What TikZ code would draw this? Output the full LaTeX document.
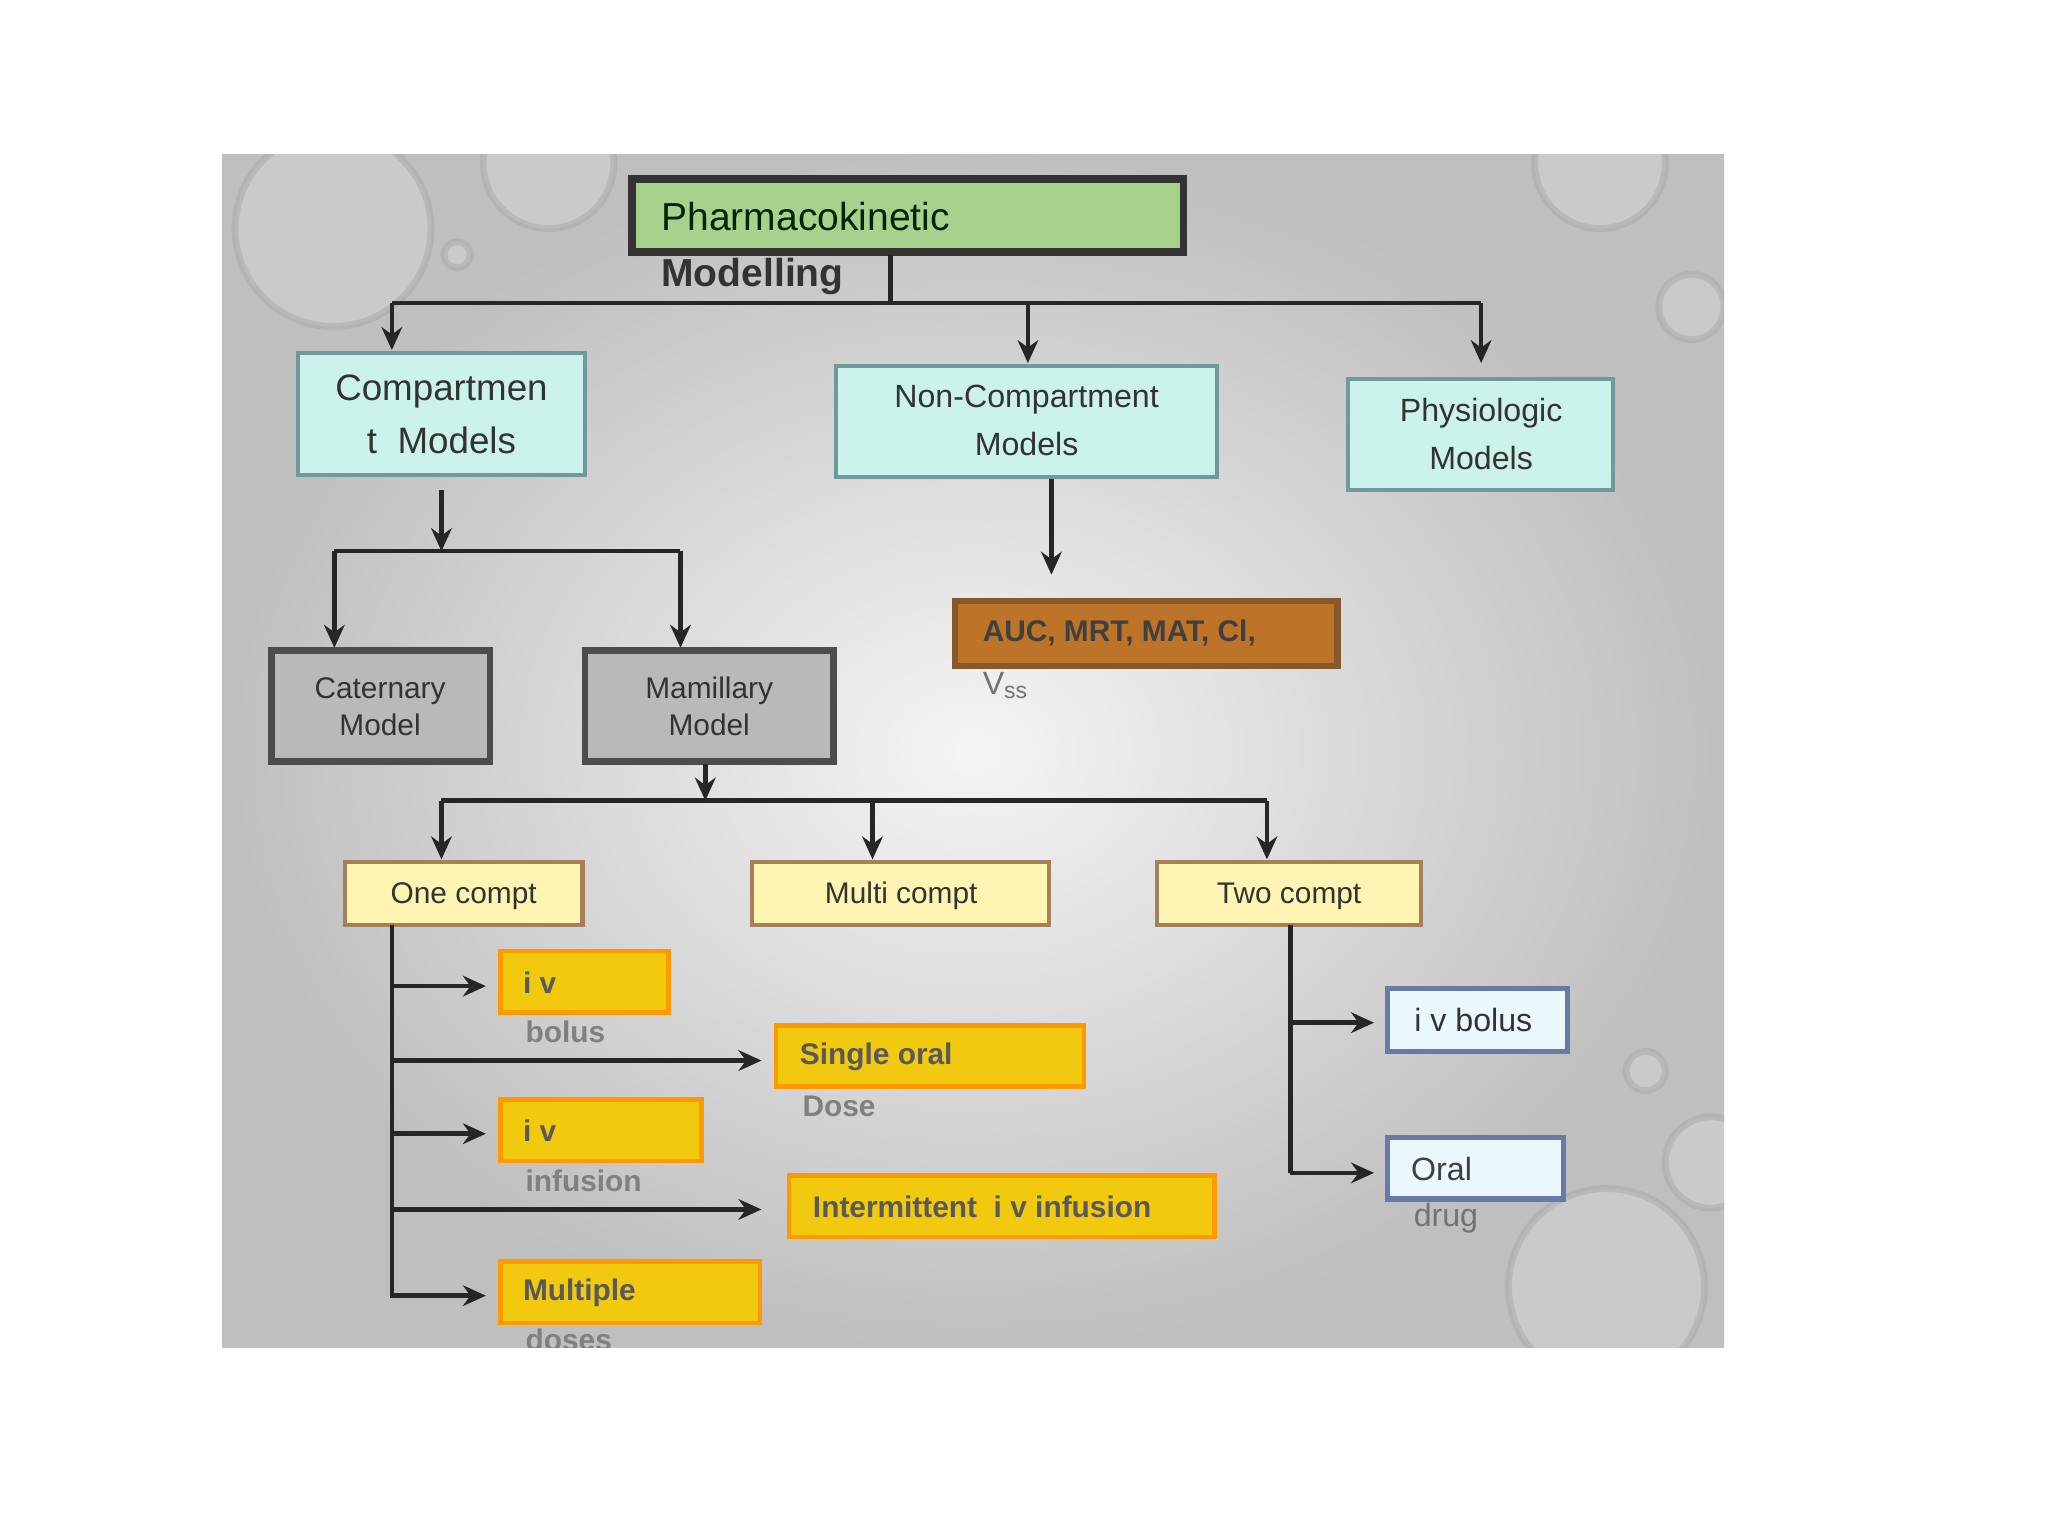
\documentclass[tikz,border=0pt]{standalone}
\usepackage{fontspec}
\setmainfont{Liberation Sans}
\usetikzlibrary{arrows.meta}
\definecolor{titlegreen}{HTML}{A9D18E}
\definecolor{lightcyan}{HTML}{CCF2EC}
\begin{document}
\begin{tikzpicture}[x=0.01cm,y=-0.01cm,
  bx/.style={draw=#1,line width=0.9pt,inner sep=0pt},
  lbl/.style={font=\fontsize{6.5}{8}\selectfont,text=black!80,align=center},
  con/.style={line width=1pt,draw=black!85},
  arr/.style={con,-{Stealth[length=5pt,width=4.5pt]}}]
\useasboundingbox (0,0) rectangle (1568,1176);
\fill[white] (0,0) rectangle (1568,1176);
\shade[inner color=gray!8,outer color=gray!50] (170,118) rectangle (1320,1032);
\begin{scope}
\clip (170,118) rectangle (1320,1032);
\foreach \x/\y/\r in {255/175/75,420/125/50,1225/125/50,1295/235/25,1230/985/75,1310/890/35,1260/820/15,350/195/10}
  \draw[gray!70,line width=1.5pt,fill=gray!30,opacity=.45] (\x,\y) circle (\r);
\end{scope}
% title
\draw[draw=black!80,fill=titlegreen,line width=1.6pt] (484,137) rectangle (906,193);
\node[anchor=west,font=\fontsize{8.5}{10}\selectfont,text=green!15!black] (t1) at (494,166) {Pharmacokinetic};
\node[anchor=west,font=\fontsize{8.5}{10}\selectfont\bfseries,text=black!80] (t2) at (494,212) {Modelling};
\coordinate (tb) at (682,195);
\coordinate (h1) at (682,232);
\coordinate (hl) at (300,232); \coordinate (hr) at (1134,232); \coordinate (hm) at (787,232);
\draw[con] (tb) -- (h1);
\draw[con] (hl) -- (hr);
% level 1
\tikzset{cy/.style={bx=teal!40!gray!80,fill=lightcyan}}
\draw[cy] (228,270) rectangle (448,364);
\node[lbl,font=\fontsize{8}{11.5}\selectfont] (cm) at (338,317) {Compartmen\\t\ \ Models};
\draw[cy] (640,280) rectangle (932,365);
\node[lbl,font=\fontsize{7}{10.5}\selectfont] (nc) at (786,322) {Non-Compartment\\Models};
\draw[cy] (1032,290) rectangle (1235,375);
\node[lbl,font=\fontsize{7}{10.5}\selectfont] (ph) at (1134,332) {Physiologic\\Models};
\draw[arr] (hl) -- (300,268);
\draw[arr] (hm) -- (787,278);
\draw[arr] (hr) -- (1134,278);
% level 2
\coordinate (c1) at (338,375); \coordinate (c2) at (338,422);
\draw[arr] (c1) -- (c2);
\coordinate (l2a) at (256,422); \coordinate (l2b) at (521,422);
\draw[con] (l2a) -- (l2b);
\draw[arr] (l2a) -- (256,496);
\draw[arr] (l2b) -- (521,496);
\draw[bx=gray!60!black,fill=gray!55,line width=1.4pt] (208,498) rectangle (375,583);
\node[lbl] (ca) at (291,541) {Caternary\\Model};
\draw[bx=gray!60!black,fill=gray!55,line width=1.4pt] (448,498) rectangle (638,583);
\node[lbl] (ma) at (543,541) {Mamillary\\Model};
\draw[arr] (805,367) -- (805,440);
\draw[bx=brown!70!black,fill=brown!70!orange!90!black,line width=1.4pt] (731,460) rectangle (1024,510);
\node[anchor=west,font=\fontsize{6.5}{8}\selectfont\bfseries,text=black!75] (auc) at (740,485) {AUC, MRT, MAT, Cl,};
\node[anchor=west,font=\fontsize{7}{8}\selectfont,text=black!55] (vss) at (740,525) {V\textsubscript{ss}};
% level 3
\coordinate (m1) at (540,585); \coordinate (m2) at (540,613);
\draw[arr] (m1) -- (m2);
\coordinate (l3a) at (338,613); \coordinate (l3b) at (668,613); \coordinate (l3c) at (970,613);
\draw[con] (l3a) -- (l3c);
\draw[arr] (l3a) -- (338,658);
\draw[arr] (l3b) -- (668,658);
\draw[arr] (l3c) -- (970,658);
\tikzset{wh/.style={bx=brown!60!gray,fill=orange!25!yellow!30!white}}
\draw[wh] (264,660) rectangle (446,708);
\node[lbl] (one) at (355,686) {One compt};
\draw[wh] (576,660) rectangle (803,708);
\node[lbl] (multi) at (690,686) {Multi compt};
\draw[wh] (886,660) rectangle (1088,708);
\node[lbl] (two) at (987,686) {Two compt};
% one compt branches
\tikzset{yb/.style={draw=orange!80!yellow,line width=1pt,fill=yellow!70!orange!95!black},
  yl/.style={anchor=west,font=\fontsize{6.5}{8}\selectfont\bfseries,text=black!65},
  sub/.style={anchor=west,font=\fontsize{6.5}{8}\selectfont\bfseries,text=black!50}}
\coordinate (v1) at (300,708); \coordinate (v2) at (300,994);
\draw[con] (v1) -- (v2);
\draw[arr] (300,755) -- (372,755);
\draw[arr] (300,812) -- (583,812);
\draw[arr] (300,868) -- (372,868);
\draw[arr] (300,926) -- (583,926);
\draw[arr] (300,992) -- (372,992);
\draw[yb] (383,728) rectangle (512,775); \node[yl] (y1) at (388,752) {i v}; \node[sub] (y1b) at (390,790) {bolus};
\draw[yb] (594,785) rectangle (830,832); \node[yl] (y2) at (600,809) {Single oral}; \node[sub] (y2b) at (602,847) {Dose};
\draw[yb] (383,842) rectangle (537,889); \node[yl] (y3) at (388,866) {i v}; \node[sub] (y3b) at (390,904) {infusion};
\draw[yb] (604,900) rectangle (930,947); \node[yl] (y4) at (610,924) {Intermittent\ \ i v infusion};
\draw[yb] (383,966) rectangle (582,1013); \node[yl] (y5) at (388,990) {Multiple};
\begin{scope}\clip (170,118) rectangle (1320,1032); \node[sub] (y5b) at (390,1026) {doses};\end{scope}
% two compt branches
\coordinate (w1) at (988,708); \coordinate (w2) at (988,898);
\draw[con] (w1) -- (w2);
\draw[arr] (988,783) -- (1052,783);
\draw[arr] (w2) -- (1052,898);
\tikzset{lb/.style={draw=cyan!40!blue!50!gray,line width=1.1pt,fill=cyan!8!white}}
\draw[lb] (1062,757) rectangle (1200,805); \node[lbl,font=\fontsize{7}{8}\selectfont] (b1) at (1128,781) {i v bolus};
\draw[lb] (1062,871) rectangle (1197,918); \node[anchor=west,font=\fontsize{7}{8}\selectfont,text=black!75] (b2) at (1068,895) {Oral};
\node[anchor=west,font=\fontsize{7}{8}\selectfont,text=black!55] (b2b) at (1070,933) {drug};
\end{tikzpicture}
\end{document}
